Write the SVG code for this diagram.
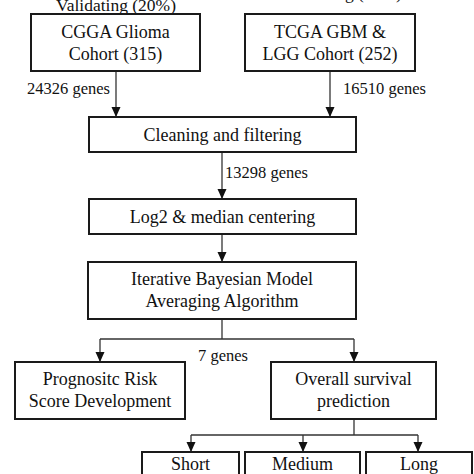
<svg xmlns="http://www.w3.org/2000/svg" width="474" height="474" viewBox="0 0 474 474">
<style>
.box{fill:#fff;stroke:#1a1a1a;stroke-width:2}
.t{font-family:"Liberation Serif","DejaVu Serif","Times New Roman",serif;font-size:18px;fill:#111;text-anchor:middle}
.l{font-family:"Liberation Serif","DejaVu Serif","Times New Roman",serif;font-size:16.5px;fill:#111}
.c{fill:none;stroke:#333;stroke-width:1.3}
</style>
<defs>
<marker id="ah" markerUnits="userSpaceOnUse" markerWidth="10" markerHeight="10" refX="10" refY="4.5" orient="auto">
<path d="M0,0 L10,4.5 L0,9 z" fill="#111"/>
</marker>
</defs>
<rect width="474" height="474" fill="#fff"/>
<text class="l" x="116" y="10.5" text-anchor="middle" style="font-size:17.5px">Validating (20%)</text>
<text class="l" x="294" y="-1.5" style="font-size:17.5px">Training (80%)</text>
<g id="connectors">
<line class="c" x1="116" y1="71" x2="116" y2="117" marker-end="url(#ah)"/>
<line class="c" x1="330" y1="71" x2="330" y2="117" marker-end="url(#ah)"/>
<line class="c" x1="222" y1="152" x2="222" y2="199" marker-end="url(#ah)"/>
<line class="c" x1="222" y1="234" x2="222" y2="262" marker-end="url(#ah)"/>
<polyline class="c" points="222,319 222,339"/>
<polyline class="c" points="100,339 354,339"/>
<line class="c" x1="100" y1="339" x2="100" y2="362" marker-end="url(#ah)"/>
<line class="c" x1="354" y1="339" x2="354" y2="362" marker-end="url(#ah)"/>
<polyline class="c" points="354,419 354,435"/>
<polyline class="c" points="191,435 418,435"/>
<line class="c" x1="191" y1="435" x2="191" y2="452" marker-end="url(#ah)"/>
<line class="c" x1="303" y1="435" x2="303" y2="452" marker-end="url(#ah)"/>
<line class="c" x1="418" y1="435" x2="418" y2="452" marker-end="url(#ah)"/>
<text class="l" x="27" y="94">24326 genes</text>
<text class="l" x="343" y="94">16510 genes</text>
<text class="l" x="225" y="178">13298 genes</text>
<text class="l" x="223" y="361" text-anchor="middle">7 genes</text>
</g>
<g id="cgga"><rect class="box" x="31" y="14" width="169" height="57"/><text class="t" x="115.5" y="38">CGGA Glioma</text><text class="t" x="115.5" y="60">Cohort (315)</text></g>
<g id="tcga"><rect class="box" x="245" y="14" width="170" height="57"/><text class="t" x="330" y="38">TCGA GBM &amp;</text><text class="t" x="330" y="60">LGG Cohort (252)</text></g>
<g id="cleaning"><rect class="box" x="89" y="117" width="267" height="35"/><text class="t" x="222.5" y="141">Cleaning and filtering</text></g>
<g id="log2"><rect class="box" x="89" y="199" width="267" height="35"/><text class="t" x="222.5" y="223">Log2 &amp; median centering</text></g>
<g id="ibma"><rect class="box" x="88" y="262" width="268" height="57"/><text class="t" x="222" y="285">Iterative Bayesian Model</text><text class="t" x="222" y="307">Averaging Algorithm</text></g>
<g id="risk"><rect class="box" x="15" y="362" width="170" height="57"/><text class="t" x="100" y="385">Prognositc Risk</text><text class="t" x="100" y="407">Score Development</text></g>
<g id="os"><rect class="box" x="271" y="362" width="165" height="57"/><text class="t" x="353.5" y="385">Overall survival</text><text class="t" x="353.5" y="407">prediction</text></g>
<g id="short"><rect class="box" x="142" y="452" width="97" height="40"/><text class="t" x="190.5" y="470">Short</text></g>
<g id="medium"><rect class="box" x="245" y="452" width="115" height="40"/><text class="t" x="302.5" y="470">Medium</text></g>
<g id="long"><rect class="box" x="366" y="452" width="106" height="40"/><text class="t" x="419" y="470">Long</text></g>
</svg>
